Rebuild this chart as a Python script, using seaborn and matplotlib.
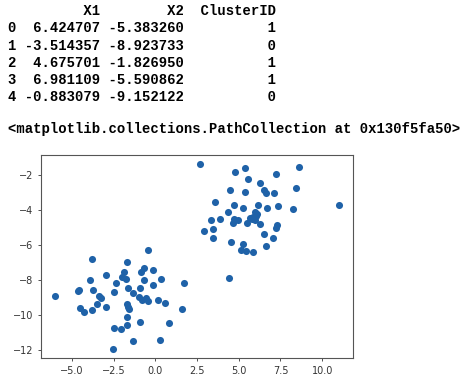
import numpy as np
import pandas as pd
import matplotlib
matplotlib.use("Agg")
import matplotlib.pyplot as plt
import seaborn as sns

# df.head() shown above the plot
head_x1 = [6.424707, -3.514357, 4.675701, 6.981109, -0.883079]
head_x2 = [-5.383260, -8.923733, -1.826950, -5.590862, -9.152122]
head_cluster = [1, 0, 1, 1, 0]

repr_line = "<matplotlib.collections.PathCollection at 0x130f5fa50>"

# scatter points
upper_x = [2.65, 4.79, 5.39, 8.64, 7.24, 5.55, 6.28, 4.49, 5.35, 6.50,
           6.64, 7.11, 8.46, 3.59, 10.98, 4.71, 5.23, 6.14, 6.72, 7.38,
           8.28, 4.36, 5.98, 6.10, 3.85, 3.31, 4.73, 4.97, 5.65, 5.78,
           5.96, 4.65, 5.48, 6.26, 7.32, 7.22, 3.48, 2.93, 6.50, 3.48,
           7.05, 4.54, 5.27, 6.64, 5.15, 5.45, 5.84, 4.43, 6.05, 5.85]
upper_y = [-1.40, -1.83, -1.64, -1.56, -1.94, -2.27, -2.48, -2.90, -3.00, -2.90,
           -3.02, -3.06, -2.75, -3.55, -3.71, -3.71, -3.88, -3.75, -3.88, -3.77,
           -3.98, -4.15, -4.13, -4.26, -4.51, -4.57, -4.51, -4.57, -4.46, -4.51,
           -4.57, -4.76, -4.73, -4.84, -4.86, -5.03, -5.11, -5.21, -5.36, -5.63,
           -5.59, -5.86, -5.97, -6.09, -6.28, -6.34, -6.40, -7.89, -4.35, -4.40]

lower_x = [-6.02, -3.78, -0.41, -1.70, -0.65, -0.15, -1.90, -0.87, -2.98, -1.98,
           -1.74, -3.94, -0.69, 0.35, 1.69, -2.36, -0.15, -4.65, -4.55, -3.72,
           -1.66, -0.93, -2.48, -1.35, -3.38, -3.26, -0.95, -0.53, -0.81, -0.45,
           0.19, 0.57, -3.50, -1.70, -1.62, -1.58, -4.52, -4.26, -3.82, -2.98,
           1.57, -1.70, -0.93, 0.79, -1.70, -2.50, -2.04, -1.33, 0.29, -2.56]
lower_y = [-8.93, -6.82, -6.28, -6.99, -7.30, -7.43, -7.57, -7.57, -7.70, -7.83,
           -7.95, -8.01, -7.99, -7.95, -8.16, -8.16, -8.28, -8.67, -8.60, -8.60,
           -8.49, -8.47, -8.70, -8.78, -8.93, -9.06, -9.01, -9.03, -9.16, -9.20,
           -9.18, -9.35, -9.41, -9.39, -9.54, -9.68, -9.60, -9.83, -9.72, -9.56,
           -9.68, -10.14, -10.41, -10.46, -10.56, -10.75, -10.79, -11.48, -11.44, -11.96]

W, H = 474, 380
fig = plt.figure(figsize=(W / 100, H / 100), dpi=100)

# notebook output text
head = pd.DataFrame({"X1": head_x1, "X2": head_x2, "ClusterID": head_cluster})
mono = dict(family="Liberation Mono", fontweight="bold", fontsize=10, color="black")
lines = head.to_string().split("\n")
for i, line in enumerate(lines):
    fig.text(8.0 / W, 1 - (11 + 17.25 * i) / H, line, va="center", ha="left", **mono)
fig.text(7.5 / W, 1 - 128.5 / H, repr_line, va="center", ha="left", **mono)

# scatter
ax = fig.add_axes([40.7 / W, 1 - 358.3 / H, 312 / W, 203.3 / H])
sns.scatterplot(x=lower_x + upper_x, y=lower_y + upper_y, ax=ax,
                color="#1f62a8", s=26, linewidth=0)
ax.set_xticks([-5.0, -2.5, 0.0, 2.5, 5.0, 7.5, 10.0])
ax.set_yticks([-2, -4, -6, -8, -10, -12])
ax.tick_params(labelsize=7, length=2.5, width=0.6, pad=2.8, colors="#333333")
for sp in ax.spines.values():
    sp.set_linewidth(0.8)
    sp.set_color("#555555")

fig.savefig("out.png", dpi=100)
